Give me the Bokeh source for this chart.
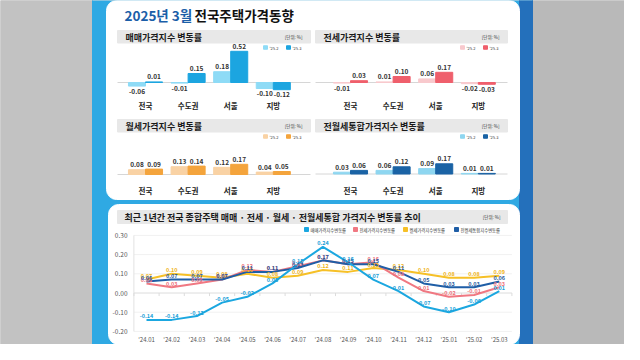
from bokeh.plotting import figure
from bokeh.models import Range1d
from bokeh.core.properties import value
from bokeh.embed import file_html
from bokeh.resources import INLINE

# ---------------- data ----------------
regions = ["전국", "수도권", "서울", "지방"]
periods = ["'25.2", "'25.3"]
sale_feb = [-0.06, -0.01, 0.18, -0.10]
sale_mar = [0.01, 0.15, 0.52, -0.12]
jeonse_feb = [-0.01, 0.01, 0.06, -0.02]
jeonse_mar = [0.03, 0.10, 0.17, -0.03]
wolse_feb = [0.08, 0.13, 0.12, 0.04]
wolse_mar = [0.09, 0.14, 0.17, 0.05]
comb_feb = [0.03, 0.06, 0.09, 0.01]
comb_mar = [0.06, 0.12, 0.17, 0.01]

months = ["'24.01", "'24.02", "'24.03", "'24.04", "'24.05", "'24.06", "'24.07", "'24.08",
          "'24.09", "'24.10", "'24.11", "'24.12", "'25.01", "'25.02", "'25.03"]
trend_sale = [-0.14, -0.14, -0.12, -0.05, -0.02, 0.05, 0.15, 0.24, 0.16, 0.07, 0.01, -0.07, -0.10, -0.06, 0.01]
trend_jeonse = [0.05, 0.03, 0.05, 0.07, 0.12, 0.11, 0.14, 0.17, 0.15, 0.16, 0.08, 0.01, -0.02, -0.01, 0.03]
trend_wolse = [0.07, 0.10, 0.09, 0.08, 0.10, 0.08, 0.09, 0.12, 0.11, 0.13, 0.12, 0.10, 0.08, 0.08, 0.09]
trend_comb = [0.06, 0.07, 0.07, 0.07, 0.11, 0.11, 0.13, 0.17, 0.15, 0.15, 0.11, 0.05, 0.03, 0.03, 0.06]
trend_names = ["매매가격지수변동률", "전세가격지수변동률", "월세가격지수변동률", "전월세통합지수변동률"]
trend_ticks = [0.30, 0.20, 0.10, 0.00, -0.10, -0.20]

# ---------------- canvas ----------------
W, H, OFF = 624, 344, 8
FONT = value("Noto Sans CJK KR")

p = figure(width=W, height=H, x_range=Range1d(OFF, OFF + W), y_range=Range1d(OFF + H, OFF),
           output_backend="svg", toolbar_location=None, min_border=0,
           x_axis_location=None, y_axis_location=None)
p.grid.visible = False
p.outline_line_color = None
p.background_fill_color = "#bcbcbc"
p.border_fill_color = "#bcbcbc"


def add_x(name, px0, k):
    start = -(px0 - OFF) / k
    p.extra_x_ranges[name] = Range1d(start, start + W / k)


def add_y(name, py0, k):
    end = (py0 - OFF) / k
    p.extra_y_ranges[name] = Range1d(end - H / k, end)


def txt(x, y, t, size, color="#222222", bold=True, align="left", baseline="middle", **kw):
    p.text(x=x, y=y, text=t, text_font=FONT, text_font_size=size, text_color=color,
           text_font_style="bold" if bold else "normal", text_align=align,
           text_baseline=baseline, **kw)


# background frame
p.quad(left=0, right=100, top=0, bottom=360, color="#c2c2c2")
p.quad(left=540, right=640, top=0, bottom=360, color="#b9b9b9")
p.quad(left=100, right=540, top=0, bottom=360, color="#2fa9e3")
p.quad(left=527, right=540, top=0, bottom=360, color="#2470bb")
p.quad(left=114, right=527, top=8, bottom=207, color="white", border_radius=10)
p.quad(left=116, right=527, top=212, bottom=352, color="white", border_radius=10)

# main title
txt([132], [22], ["2025년 3월"], "13.5px", color="#1b5ea8")
txt([202], [22], ["전국주택가격동향"], "13.5px", color="#111111")

# ---------------- bar panels ----------------
panels = [
    dict(key="p1", title="매매가격지수 변동률", feb=sale_feb, mar=sale_mar,
         colors=("#8edbf6", "#1ca5e0"), x0=153, left=125, right=318, bar_top=38, y0=90, cat_y=113),
    dict(key="p2", title="전세가격지수 변동률", feb=jeonse_feb, mar=jeonse_mar,
         colors=("#f8c9cd", "#ef5f6c"), x0=358, left=323, right=515, bar_top=38, y0=90, cat_y=113),
    dict(key="p3", title="월세가격지수 변동률", feb=wolse_feb, mar=wolse_mar,
         colors=("#f9d2a4", "#f4a43c"), x0=153, left=125, right=318, bar_top=127, y0=182, cat_y=198),
    dict(key="p4", title="전월세통합가격지수 변동률", feb=comb_feb, mar=comb_mar,
         colors=("#8ed6f0", "#1a63a5"), x0=358, left=323, right=515, bar_top=127, y0=181.5, cat_y=198),
]

for pn in panels:
    kx, ky = pn["key"] + "x", pn["key"] + "y"
    add_x(kx, pn["x0"], 42.6)
    add_y(ky, pn["y0"], 60.0)
    bt = pn["bar_top"]
    p.quad(left=pn["left"], right=pn["right"], top=bt, bottom=bt + 12.5, color="#e8e8e8")
    txt([pn["left"] + 8], [bt + 6.5], [pn["title"]], "9px", color="#1a1a1a")
    txt([pn["right"] - 8], [bt + 6.5], ["[단위: %]"], "4.5px", color="#333333", bold=False, align="right")
    # legend
    for j, (lab, col) in enumerate(zip(periods, pn["colors"])):
        lx = pn["right"] - 45 + 23 * j
        p.rect(x=[lx], y=[bt + 17], width=4, height=3.5, color=col)
        txt([lx + 4], [bt + 17], [lab], "4px", color="#333333", bold=False)
    # baseline
    p.segment(x0=[pn["left"]], x1=[pn["right"]], y0=[0], y1=[0], y_range_name=ky,
              line_color="#d6d6d6", line_width=1)
    idx = list(range(len(regions)))
    for vals, col, d in ((pn["feb"], pn["colors"][0], -0.2), (pn["mar"], pn["colors"][1], 0.2)):
        xs = [i + d for i in idx]
        p.vbar(x=xs, top=vals, bottom=0, width=0.4, color=col, x_range_name=kx, y_range_name=ky)
        offs = [-5 if v >= 0 else 5 for v in vals]
        p.text(x=xs, y=vals, text=[f"{v:.2f}" for v in vals], y_offset=offs,
               x_range_name=kx, y_range_name=ky, text_font=FONT, text_font_size="6.5px",
               text_font_style="bold", text_color="#333333", text_align="center",
               text_baseline="middle")
    p.text(x=idx, y=[pn["cat_y"]] * len(idx), text=regions, x_range_name=kx,
           text_font=FONT, text_font_size="7.5px", text_font_style="bold",
           text_color="#222222", text_align="center", text_baseline="middle")

# ---------------- line chart ----------------
add_x("lx", 154, 25.2)
add_y("ly", 300.5, 192.0)

p.quad(left=125, right=515, top=218, bottom=231, color="#e8e8e8")
txt([132], [224.5], ["최근 1년간 전국 종합주택 매매 · 전세 · 월세 · 전월세통합 가격지수 변동률 추이"],
    "9px", color="#1a1a1a")
txt([508], [224.5], ["[단위: %]"], "4.5px", color="#333333", bold=False, align="right")

series = [trend_sale, trend_jeonse, trend_wolse, trend_comb]
line_colors = ["#1ba7e0", "#f07882", "#f6c027", "#1f5ea6"]
label_colors = ["#1aa0d8", "#ee707a", "#efb41a", "#1f5a9e"]
legend_x = [314, 363, 413, 464]
for name, col, lx in zip(trend_names, line_colors, legend_x):
    p.rect(x=[lx], y=[237], width=4, height=4, color=col)
    txt([lx + 4], [237], [name], "4.3px", color="#333333", bold=False)

n = len(months)
mi = list(range(n))
# grid and axes
for t in trend_ticks:
    if t != 0:
        p.segment(x0=[-0.5], x1=[n - 0.5], y0=[t], y1=[t], x_range_name="lx", y_range_name="ly",
                  line_color="#f1f1f1", line_width=1)
p.segment(x0=[-0.5], x1=[-0.5], y0=[min(trend_ticks)], y1=[max(trend_ticks)],
          x_range_name="lx", y_range_name="ly", line_color="#e2e2e2", line_width=1)
p.segment(x0=[-0.5], x1=[n - 0.5], y0=[0], y1=[0], x_range_name="lx", y_range_name="ly",
          line_color="#dcdcdc", line_width=1)
p.segment(x0=[i + 0.5 for i in range(-1, n)], x1=[i + 0.5 for i in range(-1, n)],
          y0=[0] * (n + 1), y1=[-0.016] * (n + 1), x_range_name="lx", y_range_name="ly",
          line_color="#dcdcdc", line_width=1)
p.text(x=[135] * len(trend_ticks), y=trend_ticks, text=[f"{t:.2f}" for t in trend_ticks],
       y_range_name="ly", text_font=FONT, text_font_size="6.5px", text_color="#555555",
       text_align="right", text_baseline="middle")
p.text(x=mi, y=[347] * n, text=months, x_range_name="lx", text_font=FONT,
       text_font_size="6px", text_color="#555555", text_align="center", text_baseline="middle")

draw_order = [2, 1, 3, 0]
for k in draw_order:
    p.line(x=mi, y=series[k], x_range_name="lx", y_range_name="ly",
           line_color=line_colors[k], line_width=2)
for k in draw_order:
    p.text(x=mi, y=series[k], text=[f"{v:.2f}" for v in series[k]], y_offset=-4,
           x_range_name="lx", y_range_name="ly", text_font=FONT, text_font_size="5.5px",
           text_font_style="bold", text_color=label_colors[k], text_align="center",
           text_baseline="middle")

open("out.html", "w").write(file_html(p, INLINE))
